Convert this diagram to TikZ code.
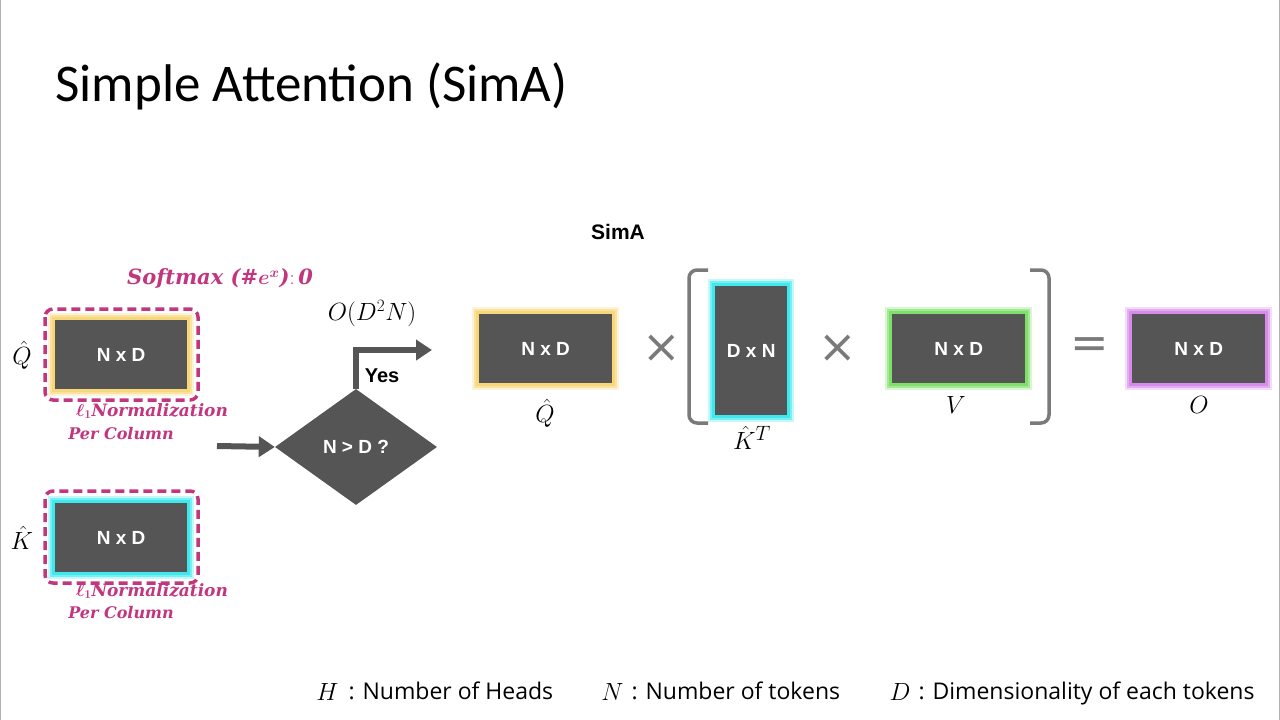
\documentclass[tikz,border=0pt]{standalone}
\usepackage{fontspec}
\usepackage{amsmath}
\setmainfont{Liberation Serif}
\setsansfont{Liberation Sans}
\newfontfamily\titlefont{Carlito}
\newfontfamily\legfont{Open Sans}
\newfontfamily\opfont{DejaVu Sans}
\newfontfamily\magfont{DejaVu Serif}
\usetikzlibrary{shapes.geometric,arrows.meta}
\definecolor{boxgray}{HTML}{555555}
\definecolor{mag}{HTML}{C2367F}
\definecolor{glowy}{HTML}{F8D77A}
\definecolor{glowc}{HTML}{3EE8EC}
\definecolor{glowg}{HTML}{7EE06A}
\definecolor{glowv}{HTML}{D68BEA}
\definecolor{opgray}{HTML}{7A7A7A}
\tikzset{
  mat/.style={fill=boxgray, text=white, font=\sffamily\bfseries\fontsize{19}{19}\selectfont, inner sep=0pt},
  magtxt/.style={text=mag, font=\magfont\bfseries\itshape\fontsize{21}{21}\selectfont},
  normtxt/.style={text=mag, font=\magfont\bfseries\itshape\fontsize{17}{17}\selectfont},
  magsmall/.style={text=mag, font=\magfont\bfseries\itshape\fontsize{16}{16}\selectfont},
  mathlbl/.style={font=\fontsize{29}{29}\selectfont},
  opsym/.style={text=opgray, font=\opfont\fontsize{46}{46}\selectfont},
  legtxt/.style={font=\legfont\fontsize{23}{23}\selectfont, anchor=base west},
  legsym/.style={font=\fontsize{33}{33}\selectfont, anchor=base east},
  dashbox/.style={draw=mag, line width=3.5pt, dash pattern=on 9pt off 5pt, rounded corners=8pt},
  flowarrow/.style={draw=boxgray, line width=6pt, -{Triangle[length=16pt,width=20pt]}}
}
\newcommand{\glowbox}[6]{%
  \fill[#6!30] (#1-7,#2-7) rectangle (#3+7,#4+7);
  \fill[#6!70] (#1-5,#2-5) rectangle (#3+5,#4+5);
  \fill[#6] (#1-3,#2-3) rectangle (#3+3,#4+3);
  \node[mat, minimum width=#3-#1, minimum height=#4-#2, anchor=north west] (#5) at (#1,#2) {};
}
\begin{document}
\begin{tikzpicture}[x=1pt,y=-1pt]
\useasboundingbox (0,0) rectangle (1280,720);
\fill[white] (0,0) rectangle (1280,720);
\draw[gray!60, line width=1pt] (0.5,0) -- (0.5,720) (1279.5,0) -- (1279.5,720);
\node[anchor=base west, font=\titlefont\fontsize{53}{53}\selectfont] (title) at (52,101) {Simple Attention (SimA)};
\node[font=\sffamily\bfseries\fontsize{21}{21}\selectfont] (sima) at (618,232) {SimA};

% left side
\node[magtxt] (softmax) at (220,279) {Softmax (\#$\boldsymbol{e^x}$)$\mathbf{:}$\,0};
\draw[dashbox] (45,309) rectangle (198,400);
\glowbox{55}{320}{187}{389}{q1}{glowy}
\node[mat] at (q1) {N x D};
\node[mathlbl] (qh) at (22,355) {$\hat{Q}$};
\node[normtxt] (n1) at (152,411) {$\boldsymbol{\ell_1}$Normalization};
\node[magsmall] (p1) at (121,434) {Per Column};

\draw[dashbox] (45,491) rectangle (198,583);
\glowbox{55}{503}{187}{572}{k1}{glowc}
\node[mat] at (k1) {N x D};
\node[mathlbl] (kh) at (22,538) {$\hat{K}$};
\node[normtxt] (n2) at (152,591) {$\boldsymbol{\ell_1}$Normalization};
\node[magsmall] (p2) at (121,613) {Per Column};

\coordinate (astart) at (217,446);
\node[diamond, fill=boxgray, minimum width=162pt, minimum height=116pt, inner sep=0pt, aspect=1.4, text=white, font=\sffamily\bfseries\fontsize{19}{19}\selectfont] (dia) at (356,447) {N > D ?};
\draw[flowarrow] (astart) -- (dia.west);
\coordinate (yesend) at (432,350);
\draw[flowarrow] (dia.north) -- (dia.north |- yesend) -- (yesend);
\node[font=\sffamily\bfseries\fontsize{20}{20}\selectfont] (yes) at (382,376) {Yes};
\node[font=\fontsize{23}{23}\selectfont] (cplx) at (372,314) {$O(D^2N)$};

% right side
\glowbox{479}{314}{612}{383}{q2}{glowy}
\node[mat] at (q2) {N x D};
\node[mathlbl] (q2l) at (545,413) {$\hat{Q}$};
\node[opsym] (x1) at (662,349) {×};
\draw[opgray, line width=3.5pt, rounded corners=8pt] (708,270) -- (689,270) -- (689,423) -- (708,423);
\glowbox{715}{286}{787}{415}{kt}{glowc}
\node[mat] at (kt) {D x N};
\node[mathlbl] (ktl) at (752,438) {$\hat{K}^T$};
\node[opsym] (x2) at (838,349) {×};
\glowbox{892}{314}{1025}{383}{v}{glowg}
\node[mat] at (v) {N x D};
\node[mathlbl] (vl) at (956,405) {$V$};
\draw[opgray, line width=3.5pt, rounded corners=8pt] (1030,270) -- (1049,270) -- (1049,423) -- (1030,423);
\node[opsym] (eq) at (1090,348) {=};
\glowbox{1132}{314}{1265}{383}{o}{glowv}
\node[mat] at (o) {N x D};
\node[mathlbl] (ol) at (1199,405) {$O$};

% legend
\node[legsym] (hs) at (342,700) {$H$};
\node[legtxt] (ht) at (345,699) {: Number of Heads};
\node[legsym] (ns) at (627,700) {$N$};
\node[legtxt] (nt) at (628,699) {: Number of tokens};
\node[legsym] (ds) at (914,700) {$D$};
\node[legtxt] (dt) at (915,699) {: Dimensionality of each tokens};
\end{tikzpicture}
\end{document}
